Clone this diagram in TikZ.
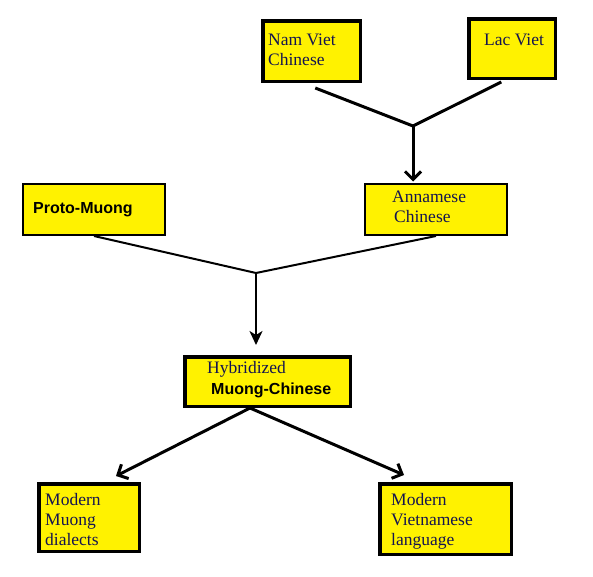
\documentclass[tikz,border=0pt]{standalone}
\usepackage{fontspec}
\setmainfont{Liberation Serif}
\newfontfamily\boldsans{Liberation Sans}
\usetikzlibrary{arrows.meta,calc}
\definecolor{boxyellow}{RGB}{255,242,0}
\definecolor{navytext}{RGB}{20,20,80}
\tikzset{
  box/.style={draw=black, fill=boxyellow, inner sep=0pt},
  thickbox/.style={box, line width=3.5pt},
  thinbox/.style={box, line width=2pt},
  serif/.style={anchor=base west, inner sep=0pt, text=navytext, font=\fontsize{17.5}{20}\selectfont},
  sansb/.style={anchor=base west, inner sep=0pt, text=black, font=\boldsans\bfseries\fontsize{16}{19}\selectfont},
  barb/.style={-{Straight Barb[length=8pt,width=16pt,line width=3pt]}},
}
\begin{document}
\begin{tikzpicture}[x=1pt,y=-1pt]
\useasboundingbox (0,0) rectangle (593,576);
\fill[white] (0,0) rectangle (593,576);

% boxes
\node[thickbox, minimum width=97.5pt, minimum height=60.5pt] (nv) at (311.5,51) {};
\node[thickbox, minimum width=86.5pt, minimum height=59.5pt] (lv) at (512,48.5) {};
\node[thinbox, minimum width=142pt, minimum height=51pt] (pm) at (94,209.5) {};
\node[thinbox, minimum width=142pt, minimum height=51pt] (an) at (436,209.5) {};
\node[thickbox, minimum width=165.5pt, minimum height=49.5pt] (hy) at (267.5,381.5) {};
\node[thickbox, minimum width=100.5pt, minimum height=67.5pt] (mm) at (89,517.5) {};
\node[thickbox, minimum width=131.5pt, minimum height=70.5pt] (mv) at (445.5,519) {};

% texts
\node[serif] (t1) at (268,45) {Nam Viet};
\node[serif] (t2) at (268,65) {Chinese};
\node[serif] (t3) at (484,45) {Lac Viet};
\node[sansb] (t4) at (33,213) {Proto-Muong};
\node[serif] (t5) at (392,202) {Annamese};
\node[serif] (t6) at (394,222) {Chinese};
\node[serif] (t7) at (207,373) {Hybridized};
\node[sansb] (t8) at (211,394) {Muong-Chinese};
\node[serif] (t9) at (45,505) {Modern};
\node[serif] (t10) at (45,525) {Muong};
\node[serif] (t11) at (45,545) {dialects};
\node[serif] (t12) at (391,505) {Modern};
\node[serif] (t13) at (391,525) {Vietnamese};
\node[serif] (t14) at (391,545) {language};

% junctions
\coordinate (j1) at (413,126);
\coordinate (j2) at (256,273);
\coordinate (j3) at ([xshift=-17.5pt]hy.south);

% top connectors
\draw[line width=3pt] ([xshift=54.25pt,yshift=-5pt]nv.south west) -- (j1);
\draw[line width=3pt] ([xshift=34.25pt,yshift=-2pt]lv.south west) -- (j1);
\draw[line width=3pt, barb] (j1) -- ([yshift=1.5pt]j1 |- an.north);

% middle connectors
\draw[line width=2pt] (pm.south) -- (j2);
\draw[line width=2pt] (an.south) -- (j2);
\draw[line width=2pt, -{Stealth[length=14pt,width=13pt,inset=4pt]}] (j2) -- ([yshift=10pt]j2 |- hy.north);

% bottom connectors
\draw[line width=3pt, barb] (j3) -- ([xshift=27pt,yshift=6pt]mm.north);
\draw[line width=3pt, barb] (j3) -- ([xshift=-41.5pt,yshift=7pt]mv.north);
\end{tikzpicture}
\end{document}
